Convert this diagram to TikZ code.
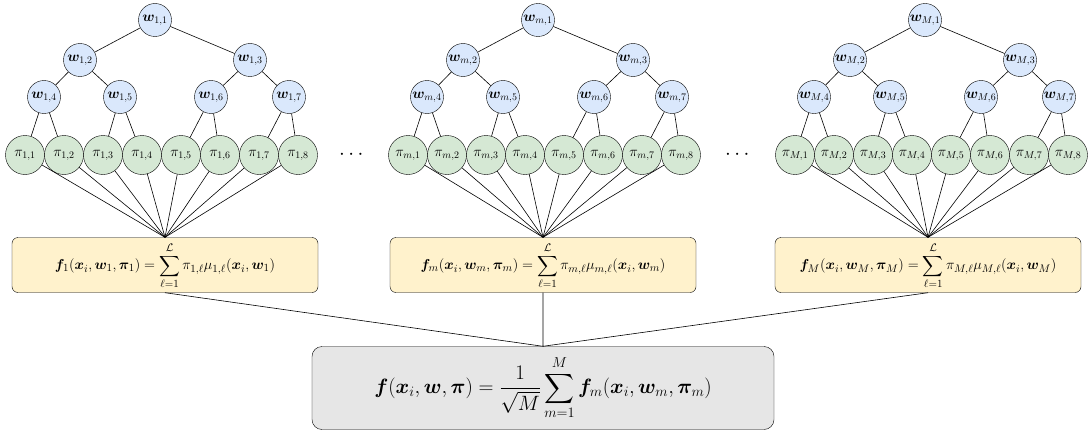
\documentclass[tikz,border=0pt]{standalone}
\usepackage{amsmath,bm}
\definecolor{bl}{HTML}{DAE8FC}
\definecolor{gr}{HTML}{D5E8D4}
\definecolor{ye}{HTML}{FFF2CC}
\definecolor{gy}{HTML}{E6E6E6}
\begin{document}
\begin{tikzpicture}[x=1pt,y=-1pt,
 wn/.style={circle,draw,fill=bl,minimum size=33pt,inner sep=0pt,font=\fontsize{14.5}{17}\selectfont},
 pn/.style={circle,draw,fill=gr,minimum size=39pt,inner sep=0pt,font=\fontsize{14.5}{17}\selectfont},
 fb/.style={draw,rounded corners=6pt,fill=ye,minimum width=306pt,minimum height=55pt},
 ft/.style={font=\fontsize{15}{18}\selectfont,inner sep=0pt},
 gb/.style={draw,rounded corners=10pt,fill=gy,minimum width=462pt,minimum height=83pt,font=\fontsize{22.5}{26}\selectfont},
 ln/.style={line width=0.6pt}]
\useasboundingbox (0,0) rectangle (1092,436);
\foreach \o/\s/\t/\c in {0/1/a/165, 383/m/b/543, 770/M/c/928}{
 \begin{scope}[xshift=\o]
 \node[wn] (\t1) at (155,20) {$\bm w_{\s,1}$};
 \node[wn] (\t2) at (80,60) {$\bm w_{\s,2}$};
 \node[wn] (\t3) at (250,60) {$\bm w_{\s,3}$};
 \node[wn] (\t4) at (44,97) {$\bm w_{\s,4}$};
 \node[wn] (\t5) at (120,97) {$\bm w_{\s,5}$};
 \node[wn] (\t6) at (211,97) {$\bm w_{\s,6}$};
 \node[wn] (\t7) at (289,97) {$\bm w_{\s,7}$};
 \foreach \i/\x in {1/25,2/64,3/103,4/142,5/181,6/220,7/259,8/298}
   \node[pn] (\t p\i) at (\x,155) {$\pi_{\s,\i}$};
 \node[fb] (\t f) at (\c-\o,265) {};
 \end{scope}
 \draw[ln] (\t1)--(\t2) (\t1)--(\t3) (\t2)--(\t4) (\t2)--(\t5) (\t3)--(\t6) (\t3)--(\t7)
   (\t4)--(\t p1) (\t4)--(\t p2) (\t5)--(\t p3) (\t5)--(\t p4)
   (\t6)--(\t p5) (\t6)--(\t p6) (\t7)--(\t p7) (\t7)--(\t p8);
 \foreach \i in {1,...,8} \draw[ln] (\t p\i) -- (\t f.north);
}
\node[ft] at (165,266) {$\bm f_1(\bm x_i,\bm w_1,\bm\pi_1)=\displaystyle\sum_{\ell=1}^{\mathcal L}\pi_{1,\ell}\mu_{1,\ell}(\bm x_i,\bm w_1)$};
\node[ft] at (543,266) {$\bm f_m(\bm x_i,\bm w_m,\bm\pi_m)=\displaystyle\sum_{\ell=1}^{\mathcal L}\pi_{m,\ell}\mu_{m,\ell}(\bm x_i,\bm w_m)$};
\node[ft] at (928,266) {$\bm f_M(\bm x_i,\bm w_M,\bm\pi_M)=\displaystyle\sum_{\ell=1}^{\mathcal L}\pi_{M,\ell}\mu_{M,\ell}(\bm x_i,\bm w_M)$};
\node[font=\huge] (d1) at (353,155) {$\cdots$};
\node[font=\huge] (d2) at (739,155) {$\cdots$};
\node[gb] (g) at (543,388) {$\bm f(\bm x_i,\bm w,\bm\pi)=\dfrac{1}{\sqrt{M}}\displaystyle\sum_{m=1}^{M}\bm f_m(\bm x_i,\bm w_m,\bm\pi_m)$};
\draw[ln] (af.south)--(g.north) (bf.south)--(g.north) (cf.south)--(g.north);
\end{tikzpicture}
\end{document}
